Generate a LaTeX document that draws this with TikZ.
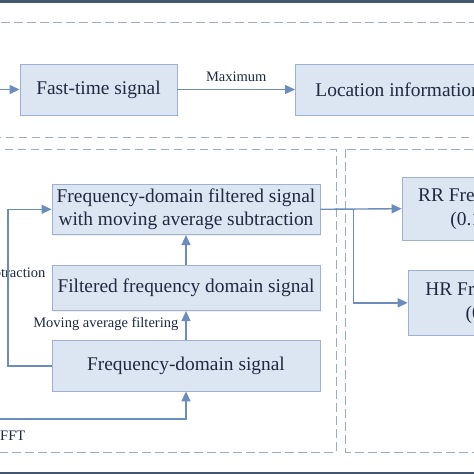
\documentclass[tikz,border=0pt]{standalone}
\usepackage{fontspec}
\setmainfont{Liberation Serif}
\usetikzlibrary{arrows.meta,shadows}
\definecolor{boxfill}{HTML}{DCE5F2}
\definecolor{boxline}{HTML}{9FB2CD}
\definecolor{arrowc}{HTML}{6B8DBE}
\definecolor{dashc}{HTML}{9AADC4}
\definecolor{txt}{HTML}{1F2A40}
\definecolor{barc}{HTML}{42576C}
\begin{document}
\begin{tikzpicture}[x=1pt,y=-1pt,
  blk/.style={draw=boxline, fill=boxfill, line width=0.9pt, inner sep=0pt, align=center, text=txt, font=\fontsize{19.4}{23.5}\selectfont,
    drop shadow={opacity=0.12, shadow xshift=1.2pt, shadow yshift=-1.2pt}},
  conn/.style={draw=arrowc, line width=1.4pt, -{Triangle[length=10pt,width=9pt]}},
  lbl/.style={text=txt, font=\fontsize{14.5}{17}\selectfont, inner sep=0pt},
  frame/.style={draw=dashc, line width=0.9pt, dash pattern=on 8.5pt off 4.5pt}]
\useasboundingbox (0,0) rectangle (474,474);
\clip (0,0) rectangle (474,474);
\fill[white] (0,0) rectangle (474,474);
% dashed frames
\draw[frame] (-10,22.7) rectangle (490,137);
\draw[frame] (-10,149.3) rectangle (336,452);
\draw[frame] (345.7,149.3) rectangle (490,452);
% boxes
\node[blk, minimum width=157pt, minimum height=51pt] (fast) at (98.5,89.5) {Fast-time signal};
\node[blk, minimum width=205.4pt, minimum height=51pt, anchor=west] (loc) at (295,89.5) {Location information};
\node[blk, minimum width=268pt, minimum height=50.7pt] (fd) at (186,209.3) {Frequency-domain filtered signal\\with moving average subtraction};
\node[blk, minimum width=268pt, minimum height=45.7pt] (ff) at (186,287.8) {Filtered frequency domain signal};
\node[blk, minimum width=268pt, minimum height=50.3pt] (fs) at (186,365.8) {Frequency-domain signal};
\node[blk, minimum width=187pt, minimum height=62.7pt, anchor=west] (rr) at (401.7,208.7) {RR Frequency band\\(0.1-0.5Hz)};
\node[blk, minimum width=190.8pt, minimum height=64.3pt, anchor=west] (hr) at (407.7,302.8) {HR Frequency band\\(0.8-2Hz)};
% labels
\node[lbl, anchor=east] (lmaf) at (178.5,324) {Moving average filtering};
\node[lbl, anchor=east] (lmas) at (45.5,274.3) {Moving average subtraction};
\node[lbl, anchor=west] (lfft) at (0,436) {FFT};
% connectors
\coordinate (inL) at (-10,89.5);
\coordinate (fftin) at (-10,419);
\coordinate (br) at (353.3,209.3);
\draw[conn] (inL) -- (fast.west);
\draw[conn] (fast.east) -- node[lbl, above=7.5pt] (lmax) {Maximum} (loc.west);
\draw[conn] (fs.north) -- (ff.south);
\draw[conn] (ff.north) -- (fd.south);
\draw[conn] (fs.west) -- ++(-43.7,0) |- (fd.west);
\draw[conn] (fftin) -| (fs.south);
\draw[conn] (fd.east) -- (rr.west);
\draw[conn] (br) |- (hr.west);
% bars
\fill[barc] (0,0) rectangle (474,2.7);
\fill[barc] (0,471.7) rectangle (474,474);
\end{tikzpicture}
\end{document}
